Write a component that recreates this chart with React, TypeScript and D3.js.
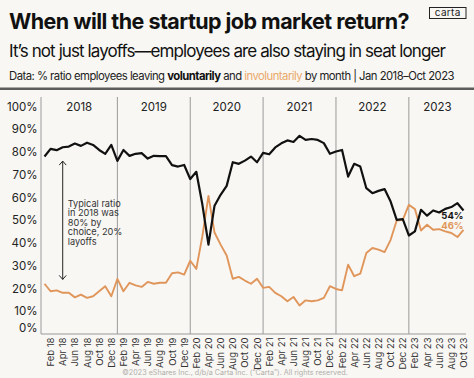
import React, { useLayoutEffect, useRef, useState } from "react";
import * as d3 from "d3";

const W = 474;
const H = 378;

const years = ["2018", "2019", "2020", "2021", "2022", "2023"];

const voluntary = [
  78.0, 81.4, 80.8, 82.1, 82.4, 83.7, 82.7, 84.1, 83.1, 80.9, 79.2, 83.1,
  76.1, 80.9, 78.3, 79.2, 79.5, 77.1, 78.3, 78.2, 78.2, 74.2, 73.6, 74.3,
  68.1, 71.3, 56.9, 39.3, 56.4, 61.2, 65.1, 75.5, 74.8, 76.2, 78.0, 75.5,
  79.6, 79.0, 82.0, 83.8, 85.1, 84.4, 87.1, 85.3, 85.7, 85.3, 83.9, 79.2,
  80.2, 80.9, 69.2, 74.8, 73.6, 64.1, 61.9, 62.9, 63.7, 58.2, 50.2, 50.5,
  43.3, 45.1, 54.6, 52.0, 54.3, 53.4, 55.0, 55.8, 57.5, 54.3,
];

const involuntary = [
  22.1, 18.8, 19.2, 18.1, 18.1, 16.1, 17.3, 15.9, 16.6, 18.8, 21.0, 16.6,
  24.2, 18.8, 22.5, 21.4, 20.7, 22.9, 22.1, 22.5, 22.5, 26.7, 27.1, 26.1,
  32.2, 28.6, 43.0, 60.7, 44.6, 39.3, 34.5, 24.3, 25.1, 23.5, 22.1, 24.3,
  20.3, 20.7, 18.1, 16.6, 14.4, 16.3, 12.5, 14.8, 14.4, 14.8, 15.9, 21.0,
  19.8, 19.2, 30.5, 25.4, 26.5, 35.6, 37.8, 37.1, 36.0, 41.4, 49.9, 50.2,
  56.8, 54.9, 45.5, 48.0, 45.8, 46.1, 45.1, 44.4, 42.6, 45.8,
];

// tick labels at every other month starting Feb 18 (index 1, 3, 5, ...)
const tickLabels = [
  "Feb 18", "Apr 18", "Jun 18", "Aug 18", "Oct 18", "Dec 18",
  "Feb 19", "Apr 19", "Jun 19", "Aug 19", "Oct 19", "Dec 19",
  "Feb 20", "Apr 20", "Jun 20", "Aug 20", "Oct 20", "Dec 20",
  "Feb 21", "Apr 21", "Jun 21", "Aug 21", "Oct 21", "Dec 21",
  "Feb 22", "Apr 22", "Jun 22", "Aug 22", "Oct 22", "Dec 22",
  "Feb 23", "Apr 23", "Jun 23", "Aug 23", "Oct 23",
];

const yTicks = [0, 10, 20, 30, 40, 50, 60, 70, 80, 90, 100];
const annotationLines = ["Typical ratio", "in 2018 was", "80% by", "choice, 20%", "layoffs"];

const BG = "#f8f7f3";
const INK = "#111111";
const ORANGE = "#e0955a";
const GRID = "#9a9a9a";
const FONT = "Inter, 'Noto Sans', sans-serif";

// Text whose letter-spacing is tuned so its total width matches `width`
function FitText(props: {
  x: number;
  y: number;
  width: number;
  nChars: number;
  fontSize: number;
  fontWeight?: number;
  fill: string;
  children: React.ReactNode;
}) {
  const ref = useRef<SVGTextElement>(null);
  const [ls, setLs] = useState(0);
  useLayoutEffect(() => {
    const el = ref.current;
    if (!el) return;
    const w = el.getComputedTextLength();
    if (w > 0) setLs((props.width - w) / props.nChars);
    // eslint-disable-next-line react-hooks/exhaustive-deps
  }, []);
  return (
    <text
      ref={ref}
      x={props.x}
      y={props.y}
      fontSize={props.fontSize}
      fontWeight={props.fontWeight}
      fill={props.fill}
      letterSpacing={ls}
    >
      {props.children}
    </text>
  );
}

const TITLE = "When will the startup job market return?";
const SUBTITLE = "It’s not just layoffs—employees are also staying in seat longer";
const DATA_LINE = "Data: % ratio employees leaving voluntarily and involuntarily by month | Jan 2018–Oct 2023";

export default function App() {
  const n = voluntary.length;
  const x = d3.scaleLinear().domain([0, n - 1]).range([44.5, 463.5]);
  const y = d3.scaleLinear().domain([0, 100]).range([334, 106.5]);
  const plotLeft = 41;
  const plotRight = 466;
  const plotTop = 97;
  const plotBottom = y(0);

  const line = d3
    .line<number>()
    .x((_, i) => x(i))
    .y((d) => y(d))
    .curve(d3.curveLinear);

  const sepIdx = [12, 24, 36, 48, 60];
  const bounds = [plotLeft, ...sepIdx.map((i) => x(i)), plotRight];

  const ax = x(3);
  const aTop = y(76);
  const aBot = y(24);

  return (
    <svg
      width={W}
      height={H}
      viewBox={`0 0 ${W} ${H}`}
      style={{ position: "absolute", left: 0, top: 0, display: "block" }}
      fontFamily={FONT}
    >
      <rect x={0} y={0} width={W} height={H} fill={BG} />

      {/* header */}
      <FitText x={9} y={28.5} width={400} nChars={TITLE.length} fontSize={21.5} fontWeight={700} fill={INK}>
        {TITLE}
      </FitText>
      <rect x={429.5} y={7.5} width={36.5} height={11} fill="none" stroke="#222" strokeWidth={1} />
      <text x={447.75} y={16.3} fontSize={10} textAnchor="middle" fill="#222" letterSpacing={0.3}>
        carta
      </text>
      <FitText x={9} y={57} width={436} nChars={SUBTITLE.length} fontSize={17} fill={INK}>
        {SUBTITLE}
      </FitText>
      <FitText x={9} y={79.5} width={445} nChars={DATA_LINE.length} fontSize={11.3} fill="#222">
        Data: % ratio employees leaving{" "}
        <tspan fontWeight={700} fill={INK}>voluntarily</tspan> and{" "}
        <tspan fill="#eaa86a">involuntarily</tspan> by month | Jan 2018–Oct 2023
      </FitText>
      <rect x={0} y={87.5} width={W} height={2.5} fill="#5c5c5c" />

      {/* y axis labels */}
      {yTicks.map((t) => (
        <text
          key={t}
          x={37.5}
          y={t === 0 ? y(t) - 6 : y(t)}
          fontSize={11.5}
          textAnchor="end"
          dominantBaseline="central"
          fill="#222"
        >
          {t}%
        </text>
      ))}

      {/* axis and separators */}
      <line x1={plotLeft} x2={plotLeft} y1={plotTop} y2={plotBottom} stroke={GRID} strokeWidth={1} />
      {sepIdx.map((i) => (
        <line key={i} x1={x(i)} x2={x(i)} y1={plotTop} y2={plotBottom} stroke={GRID} strokeWidth={1} />
      ))}
      <line x1={plotLeft} x2={plotRight} y1={plotBottom} y2={plotBottom} stroke={GRID} strokeWidth={1.2} />

      {/* year labels */}
      {years.map((yr, i) => (
        <text
          key={yr}
          x={(bounds[i] + bounds[i + 1]) / 2}
          y={y(100)}
          fontSize={11.5}
          textAnchor="middle"
          dominantBaseline="central"
          fill="#222"
        >
          {yr}
        </text>
      ))}

      {/* x tick labels */}
      {tickLabels.map((lab, k) => {
        const i = 1 + 2 * k;
        return (
          <text
            key={lab}
            transform={`translate(${x(i)},${plotBottom + 3.5}) rotate(-90)`}
            fontSize={9.5}
            textAnchor="end"
            dominantBaseline="central"
            fill="#333"
          >
            {lab}
          </text>
        );
      })}

      {/* lines */}
      <path d={line(involuntary) || ""} fill="none" stroke={ORANGE} strokeWidth={1.9} strokeLinejoin="round" />
      <path d={line(voluntary) || ""} fill="none" stroke={INK} strokeWidth={2.2} strokeLinejoin="round" />

      {/* end labels */}
      <text x={x(n - 1)} y={y(voluntary[n - 1]) + 5.5} fontSize={9.5} fontWeight={700} textAnchor="end" dominantBaseline="central" fill={INK}>
        {Math.round(voluntary[n - 1])}%
      </text>
      <text x={x(n - 1)} y={y(voluntary[n - 1]) + 15} fontSize={9.5} fontWeight={700} textAnchor="end" dominantBaseline="central" fill={ORANGE}>
        {Math.round(involuntary[n - 1])}%
      </text>

      {/* annotation */}
      <line x1={ax} x2={ax} y1={aTop} y2={aBot} stroke="#222" strokeWidth={1} />
      <path d={`M${ax - 3.5},${aTop + 4} L${ax},${aTop} L${ax + 3.5},${aTop + 4}`} fill="none" stroke="#222" strokeWidth={1} />
      <path d={`M${ax - 3.5},${aBot - 4} L${ax},${aBot} L${ax + 3.5},${aBot - 4}`} fill="none" stroke="#222" strokeWidth={1} />
      {annotationLines.map((t, i) => (
        <text key={t} x={ax + 5} y={203 + i * 9.6} fontSize={9.2} dominantBaseline="central" fill="#333">
          {t}
        </text>
      ))}

      {/* footer */}
      <text x={235} y={374.5} fontSize={7.2} textAnchor="middle" fill="#b0aeaa">
        ©2023 eShares Inc., d/b/a Carta Inc. (“Carta”). All rights reserved.
      </text>
    </svg>
  );
}
